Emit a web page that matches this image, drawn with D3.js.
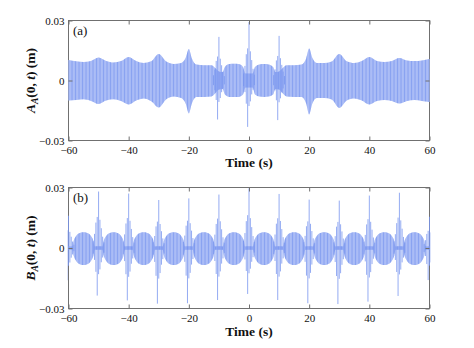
<!DOCTYPE html>
<html>
<head>
<meta charset="utf-8">
<script src="https://cdn.jsdelivr.net/npm/d3@7"></script>
<style>
  body { margin: 0; background: #fff; }
  svg { display: block; }
</style>
</head>
<body>
<script>
// ---------- panel (a): envelope of the carrier oscillation ----------
const aTime = [-60, -57.5, -55, -52.5, -50, -47.5, -45, -42.5, -40, -37.5, -35, -32.5, -30, -27.5, -25, -22.5,
  -21, -20, -19, -17.5, -15, -12.5, -11.2, -10, -8.8, -8, -6.5, -5, -3.5, -2, -1.2, 0,
  1.2, 2, 3.5, 5, 6.5, 8, 8.8, 10, 11.2, 12.5, 15, 17.5, 19, 20, 21, 22.5,
  25, 27.5, 30, 32.5, 35, 37.5, 40, 42.5, 45, 47.5, 50, 52.5, 55, 57.5, 60];
const aUpper = [0.0103, 0.0096, 0.0093, 0.0098, 0.0115, 0.0098, 0.0090, 0.0097, 0.0118, 0.0098, 0.0088, 0.0096, 0.0133, 0.0095, 0.0083, 0.0088,
  0.0115, 0.0158, 0.0110, 0.0080, 0.0076, 0.0076, 0.0062, 0.0045, 0.0042, 0.0068, 0.0082, 0.0084, 0.0082, 0.0068, 0.0035, 0.0035,
  0.0035, 0.0068, 0.0080, 0.0082, 0.0080, 0.0068, 0.0042, 0.0045, 0.0062, 0.0076, 0.0076, 0.0080, 0.0110, 0.0160, 0.0115, 0.0088,
  0.0087, 0.0095, 0.0133, 0.0096, 0.0087, 0.0097, 0.0118, 0.0098, 0.0093, 0.0098, 0.0113, 0.0100, 0.0097, 0.0100, 0.0107];
const aLower = [-0.0100, -0.0097, -0.0094, -0.0102, -0.0117, -0.0100, -0.0094, -0.0103, -0.0120, -0.0100, -0.0090, -0.0104, -0.0135, -0.0094, -0.0080, -0.0088,
  -0.0118, -0.0165, -0.0115, -0.0083, -0.0082, -0.0080, -0.0064, -0.0045, -0.0042, -0.0070, -0.0082, -0.0083, -0.0082, -0.0070, -0.0035, -0.0035,
  -0.0035, -0.0070, -0.0080, -0.0082, -0.0080, -0.0070, -0.0042, -0.0045, -0.0064, -0.0080, -0.0082, -0.0083, -0.0115, -0.0170, -0.0118, -0.0088,
  -0.0088, -0.0095, -0.0137, -0.0100, -0.0090, -0.0100, -0.0120, -0.0102, -0.0098, -0.0102, -0.0115, -0.0102, -0.0098, -0.0102, -0.0107];

// panel (a): sharp bursts
const aBurstTime = [-10, 0, 10];
const aBurstUp = [0.0218, 0.0292, 0.0223];
const aBurstDown = [-0.0195, -0.0232, -0.0198];

// ---------- panel (b): breathers between bursts ----------
const bLensCentre = [-55, -45, -35, -25, -15, -5, 5, 15, 25, 35, 45, 55];
const bLensUp = [0.0078, 0.0078, 0.0078, 0.0078, 0.0078, 0.0078, 0.0078, 0.0078, 0.0078, 0.0078, 0.0078, 0.0078];
const bLensDown = [-0.0084, -0.0084, -0.0084, -0.0084, -0.0084, -0.0084, -0.0084, -0.0084, -0.0084, -0.0084, -0.0084, -0.0084];
const lensOffset = [-3.7, -3.3, -2.7, -2.0, -1.0, 0, 1.0, 2.0, 2.7, 3.3, 3.7];
const lensProfile = [0.10, 0.45, 0.70, 0.87, 0.97, 1.0, 0.97, 0.87, 0.70, 0.45, 0.10];
const bTailLevel = 0.0009;

// panel (b): sharp bursts
const bBurstTime = [-60, -50, -40, -30, -20, -10, 0, 10, 20, 30, 40, 50, 60];
const bBurstUp = [0.0160, 0.0280, 0.0270, 0.0238, 0.0246, 0.0265, 0.0296, 0.0268, 0.0240, 0.0235, 0.0260, 0.0274, 0.0155];
const bBurstDown = [-0.0160, -0.0236, -0.0260, -0.0276, -0.0274, -0.0258, -0.0228, -0.0258, -0.0274, -0.0278, -0.0266, -0.0238, -0.0159];

// cycle-by-cycle shape of a burst (time offset, share of the upward / downward peak)
const burstOffset = [-1.8, -1.35, -0.9, -0.45, 0, 0.45, 0.9, 1.35, 1.8];
const burstUpShare = [0.12, 0.25, 0.45, 0.55, 1.0, 0.50, 0.35, 0.20, 0.10];
const burstDownShare = [0.12, 0.25, 0.50, 1.0, 0.55, 0.45, 0.30, 0.20, 0.10];

// axes
const xTicks = [-60, -40, -20, 0, 20, 40, 60];
const yTicks = [-0.03, 0, 0.03];

// ---------- drawing ----------
const W = 474, H = 348;
const X0 = 68.5, X1 = 429.5;
const waveColour = "#7995ef";
const serif = "Liberation Serif, DejaVu Serif, serif";
const strokeGap = 1.4;   // on-screen spacing of the carrier strokes

const svg = d3.select("body").append("svg").attr("width", W).attr("height", H)
  .attr("font-family", serif)
  .style("background", "#fff");
const defs = svg.append("defs");

const x = d3.scaleLinear().domain([-60, 60]).range([X0, X1]);

function buildB() {
  const env = [];
  bBurstTime.forEach((t, i) => {
    env.push({ t: t, up: bTailLevel, down: -bTailLevel });
    if (i < bLensCentre.length) {
      const c = bLensCentre[i];
      lensOffset.forEach((o, j) => {
        env.push({ t: c + o, up: bLensUp[i] * lensProfile[j], down: bLensDown[i] * lensProfile[j] });
      });
    }
  });
  return env;
}

const envA = aTime.map((t, i) => ({ t: t, up: aUpper[i], down: aLower[i] }));
const envB = buildB();

const panels = [
  { id: "a", top: 20.5, bottom: 140.5, env: envA, bt: aBurstTime, bu: aBurstUp, bd: aBurstDown,
    letter: "(a)", name: "A", xlabelY: 167 },
  { id: "b", top: 187.5, bottom: 308.5, env: envB, bt: bBurstTime, bu: bBurstUp, bd: bBurstDown,
    letter: "(b)", name: "B", xlabelY: 336 }
];

panels.forEach(p => {
  const y = d3.scaleLinear().domain([-0.03, 0.03]).range([p.bottom, p.top]);
  const g = svg.append("g");

  // frame
  g.append("rect").attr("x", X0).attr("y", p.top).attr("width", X1 - X0).attr("height", p.bottom - p.top)
    .attr("fill", "none").attr("stroke", "#707070").attr("stroke-width", 1);

  const clipId = "clip-" + p.id;
  defs.append("clipPath").attr("id", clipId).append("rect")
    .attr("x", X0 - 1).attr("y", p.top).attr("width", X1 - X0 + 2).attr("height", p.bottom - p.top);

  const plot = g.append("g").attr("clip-path", `url(#${clipId})`);

  // oscillation envelope: light band, with the carrier strokes clipped to it
  const area = d3.area().x(d => x(d.t)).y0(d => y(d.down)).y1(d => y(d.up)).curve(d3.curveMonotoneX);
  const envId = "env-" + p.id;
  defs.append("clipPath").attr("id", envId).append("path").datum(p.env).attr("d", area);
  plot.append("path").datum(p.env).attr("d", area).attr("fill", "#d3dcfb");
  const strokes = plot.append("g").attr("clip-path", `url(#${envId})`);
  strokes.selectAll("line").data(d3.range(X0, X1 + 1, strokeGap)).join("line")
    .attr("x1", d => d).attr("x2", d => d)
    .attr("y1", p.top).attr("y2", p.bottom)
    .attr("stroke", "#7290ee").attr("stroke-width", 0.75);

  // bursts drawn cycle by cycle
  const lines = [];
  p.bt.forEach((t, i) => {
    burstOffset.forEach((o, j) => {
      lines.push({ t: t + o, up: p.bu[i] * burstUpShare[j], down: p.bd[i] * burstDownShare[j] });
    });
  });
  plot.selectAll("line.burst").data(lines).join("line").attr("class", "burst")
    .attr("x1", d => x(d.t)).attr("x2", d => x(d.t))
    .attr("y1", d => y(d.up)).attr("y2", d => y(d.down))
    .attr("stroke", waveColour).attr("stroke-width", 0.8);

  // axes with inward ticks
  const styleAxis = sel => {
    sel.select(".domain").remove();
    sel.attr("font-family", serif).attr("font-size", 11);
    sel.selectAll(".tick line").attr("stroke", "#707070");
    sel.selectAll(".tick text").attr("fill", "#111");
  };
  g.append("g").attr("transform", `translate(0,${p.bottom})`)
    .call(d3.axisBottom(x).tickValues(xTicks).tickSize(-4).tickPadding(6).tickFormat(d3.format("d")))
    .call(styleAxis);
  g.append("g").attr("transform", `translate(0,${p.top})`)
    .call(d3.axisTop(x).tickValues(xTicks).tickSize(-4).tickFormat(""))
    .call(styleAxis);
  g.append("g").attr("transform", `translate(${X0},0)`)
    .call(d3.axisLeft(y).tickValues(yTicks).tickSize(-4).tickPadding(4)
      .tickFormat(v => v === 0 ? "0" : d3.format(".2f")(v)))
    .call(styleAxis);
  g.append("g").attr("transform", `translate(${X1},0)`)
    .call(d3.axisRight(y).tickValues(yTicks).tickSize(-4).tickFormat(""))
    .call(styleAxis);

  // panel letter
  g.append("text").attr("x", 73).attr("y", p.top + 14.5)
    .attr("font-size", 13).attr("fill", "#111")
    .text(p.letter);

  // x label
  g.append("text").attr("x", (X0 + X1) / 2).attr("y", p.xlabelY).attr("text-anchor", "middle")
    .attr("font-size", 13.5).attr("font-weight", "bold").attr("fill", "#111")
    .text("Time (s)");

  // y label
  const yl = g.append("text")
    .attr("transform", `translate(34.5,${(p.top + p.bottom) / 2}) rotate(-90)`)
    .attr("text-anchor", "middle")
    .attr("font-size", 13.5).attr("font-weight", "bold").attr("fill", "#111");
  yl.append("tspan").attr("font-style", "italic").text(p.name);
  yl.append("tspan").attr("font-style", "italic").attr("font-size", 9.5).attr("dy", 3).text("A");
  yl.append("tspan").attr("dy", -3).text("(0, ");
  yl.append("tspan").attr("font-style", "italic").text("t");
  yl.append("tspan").text(") (m)");
});
</script>
</body>
</html>
